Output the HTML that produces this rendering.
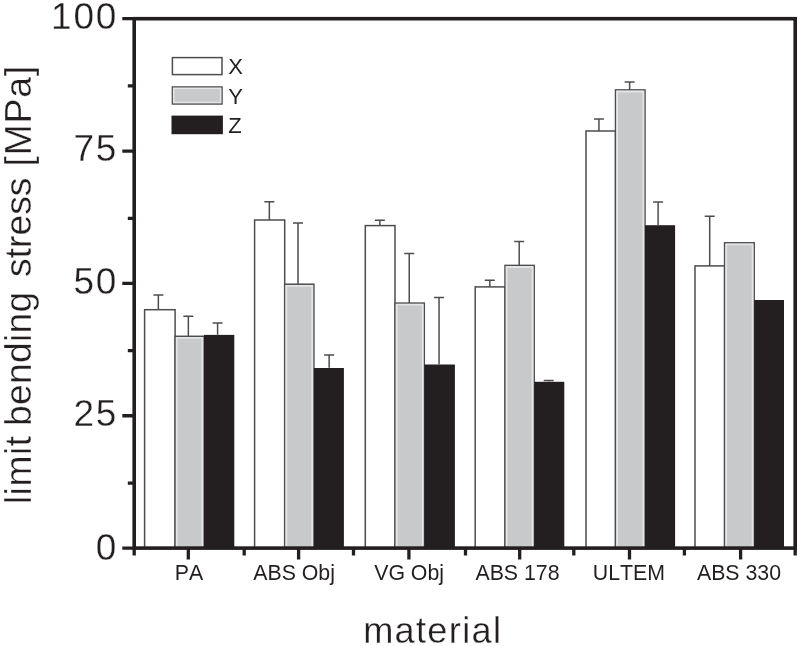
<!DOCTYPE html>
<html lang="en"><head><meta charset="utf-8"><title>limit bending stress by material</title>
<style>html,body{margin:0;padding:0;background:#fff}svg{display:block;filter:blur(0.6px)}text{font-family:"Liberation Sans",Arial,Helvetica,sans-serif;fill:#231f20;font-kerning:none}.t{stroke:#fff;stroke-width:0.3px}</style></head><body>
<svg width="800" height="646" viewBox="0 0 800 646">
<rect width="800" height="646" fill="#fff"/>
<path d="M158.35 309.70V295.00M153.35 295.00H163.35" stroke="#4d4d4f" stroke-width="1.50" fill="none"/>
<rect x="144.60" y="309.70" width="30.50" height="238.40" fill="#fff" stroke="#4d4d4f" stroke-width="1.50"/>
<path d="M188.35 336.30V316.30M183.35 316.30H193.35" stroke="#4d4d4f" stroke-width="1.50" fill="none"/>
<rect x="175.10" y="336.30" width="28.90" height="211.80" fill="#c8c9cb" stroke="#4d4d4f" stroke-width="1.50"/>
<path d="M176.70 546.60V337.90H202.40V546.60" fill="none" stroke="#e4e5e6" stroke-width="1.8"/>
<path d="M217.60 334.70V323.00M212.60 323.00H222.60" stroke="#4d4d4f" stroke-width="1.50" fill="none"/>
<rect x="204.00" y="334.90" width="30.30" height="213.20" fill="#231f20"/>
<path d="M269.35 220.00V201.80M264.35 201.80H274.35" stroke="#4d4d4f" stroke-width="1.50" fill="none"/>
<rect x="254.60" y="220.00" width="30.10" height="328.10" fill="#fff" stroke="#4d4d4f" stroke-width="1.50"/>
<path d="M298.00 284.20V223.00M293.00 223.00H303.00" stroke="#4d4d4f" stroke-width="1.50" fill="none"/>
<rect x="284.70" y="284.20" width="29.20" height="263.90" fill="#c8c9cb" stroke="#4d4d4f" stroke-width="1.50"/>
<path d="M286.30 546.60V285.80H312.30V546.60" fill="none" stroke="#e4e5e6" stroke-width="1.8"/>
<path d="M329.15 367.80V355.00M324.15 355.00H334.15" stroke="#4d4d4f" stroke-width="1.50" fill="none"/>
<rect x="313.90" y="368.00" width="30.00" height="180.10" fill="#231f20"/>
<path d="M379.85 225.60V220.30M374.85 220.30H384.85" stroke="#4d4d4f" stroke-width="1.50" fill="none"/>
<rect x="365.30" y="225.60" width="29.70" height="322.50" fill="#fff" stroke="#4d4d4f" stroke-width="1.50"/>
<path d="M409.25 303.10V253.50M404.25 253.50H414.25" stroke="#4d4d4f" stroke-width="1.50" fill="none"/>
<rect x="395.00" y="303.10" width="29.30" height="245.00" fill="#c8c9cb" stroke="#4d4d4f" stroke-width="1.50"/>
<path d="M396.60 546.60V304.70H422.70V546.60" fill="none" stroke="#e4e5e6" stroke-width="1.8"/>
<path d="M439.05 364.30V297.50M434.05 297.50H444.05" stroke="#4d4d4f" stroke-width="1.50" fill="none"/>
<rect x="424.30" y="364.50" width="30.60" height="183.60" fill="#231f20"/>
<path d="M489.80 286.90V280.20M484.80 280.20H494.80" stroke="#4d4d4f" stroke-width="1.50" fill="none"/>
<rect x="475.20" y="286.90" width="29.80" height="261.20" fill="#fff" stroke="#4d4d4f" stroke-width="1.50"/>
<path d="M519.20 265.40V241.40M514.20 241.40H524.20" stroke="#4d4d4f" stroke-width="1.50" fill="none"/>
<rect x="505.00" y="265.40" width="29.20" height="282.70" fill="#c8c9cb" stroke="#4d4d4f" stroke-width="1.50"/>
<path d="M506.60 546.60V267.00H532.60V546.60" fill="none" stroke="#e4e5e6" stroke-width="1.8"/>
<path d="M548.70 381.60V380.60M543.70 380.60H553.70" stroke="#4d4d4f" stroke-width="1.50" fill="none"/>
<rect x="534.20" y="381.80" width="30.10" height="166.30" fill="#231f20"/>
<path d="M598.95 131.00V119.00M593.95 119.00H603.95" stroke="#4d4d4f" stroke-width="1.50" fill="none"/>
<rect x="586.00" y="131.00" width="29.50" height="417.10" fill="#fff" stroke="#4d4d4f" stroke-width="1.50"/>
<path d="M629.65 89.90V81.90M624.65 81.90H634.65" stroke="#4d4d4f" stroke-width="1.50" fill="none"/>
<rect x="615.50" y="89.90" width="29.50" height="458.20" fill="#c8c9cb" stroke="#4d4d4f" stroke-width="1.50"/>
<path d="M617.10 546.60V91.50H643.40V546.60" fill="none" stroke="#e4e5e6" stroke-width="1.8"/>
<path d="M658.10 225.00V202.00M653.10 202.00H663.10" stroke="#4d4d4f" stroke-width="1.50" fill="none"/>
<rect x="645.00" y="225.20" width="30.10" height="322.90" fill="#231f20"/>
<path d="M709.70 265.90V216.30M704.70 216.30H714.70" stroke="#4d4d4f" stroke-width="1.50" fill="none"/>
<rect x="695.00" y="265.90" width="29.60" height="282.20" fill="#fff" stroke="#4d4d4f" stroke-width="1.50"/>
<rect x="724.60" y="242.80" width="29.60" height="305.30" fill="#c8c9cb" stroke="#4d4d4f" stroke-width="1.50"/>
<path d="M726.20 546.60V244.40H752.60V546.60" fill="none" stroke="#e4e5e6" stroke-width="1.8"/>
<rect x="754.20" y="300.00" width="29.80" height="248.10" fill="#231f20"/>
<rect x="134.20" y="18.70" width="661.00" height="529.40" fill="none" stroke="#231f20" stroke-width="3.6"/>
<path d="M122.30 548.10H134.20M122.30 415.75H134.20M122.30 283.40H134.20M122.30 151.05H134.20M122.30 18.70H134.20M127.80 483.03H134.20M127.80 350.68H134.20M127.80 218.33H134.20M127.80 85.97H134.20M188.30 548.10V559.60M298.60 548.10V559.60M408.90 548.10V559.60M519.70 548.10V559.60M629.50 548.10V559.60M740.60 548.10V559.60M134.20 548.10V555.50M244.20 548.10V555.50M353.50 548.10V555.50M465.50 548.10V555.50M573.80 548.10V555.50M684.40 548.10V555.50M795.20 548.10V555.50" stroke="#231f20" stroke-width="3.3" fill="none"/>
<text class="t" x="118.2" y="559.80" font-size="37" text-anchor="end" letter-spacing="1.8">0</text>
<text class="t" x="118.2" y="425.95" font-size="37" text-anchor="end" letter-spacing="1.8">25</text>
<text class="t" x="118.2" y="293.60" font-size="37" text-anchor="end" letter-spacing="1.8">50</text>
<text class="t" x="118.2" y="161.25" font-size="37" text-anchor="end" letter-spacing="1.8">75</text>
<text class="t" x="118.2" y="28.90" font-size="37" text-anchor="end" letter-spacing="1.8">100</text>
<text x="189.00" y="580" font-size="21.3" text-anchor="middle">PA</text>
<text x="294.10" y="580" font-size="21.3" text-anchor="middle">ABS Obj</text>
<text x="409.10" y="580" font-size="21.3" text-anchor="middle">VG Obj</text>
<text x="517.50" y="580" font-size="21.3" text-anchor="middle">ABS 178</text>
<text x="628.90" y="580" font-size="21.3" text-anchor="middle">ULTEM</text>
<text x="739.00" y="580" font-size="21.3" text-anchor="middle">ABS 330</text>
<rect x="172.4" y="57.60" width="49.6" height="17.0" fill="#fff" stroke="#4d4d4f" stroke-width="1.50"/>
<text x="228.3" y="74.10" font-size="22">X</text>
<rect x="172.4" y="87.00" width="49.6" height="17.0" fill="#c8c9cb" stroke="#4d4d4f" stroke-width="1.50"/>
<rect x="173.7" y="88.40" width="46.9" height="14.1" fill="none" stroke="#e4e5e6" stroke-width="1.6"/>
<text x="228.3" y="103.50" font-size="22">Y</text>
<rect x="171.5" y="115.60" width="51.4" height="18.6" fill="#231f20"/>
<text x="228.3" y="132.90" font-size="22">Z</text>
<text class="t" x="432.7" y="642.5" font-size="36.2" text-anchor="middle" letter-spacing="1.3">material</text>
<text class="t" transform="translate(31.2 0) rotate(-90)" font-size="37.3"><tspan x="-504.20" letter-spacing="0.50">limit </tspan><tspan x="-426.00" letter-spacing="0.25">bending </tspan><tspan x="-277.00" letter-spacing="0.00">stress </tspan><tspan x="-166.50" letter-spacing="0.80">[MPa]</tspan></text>
</svg></body></html>
